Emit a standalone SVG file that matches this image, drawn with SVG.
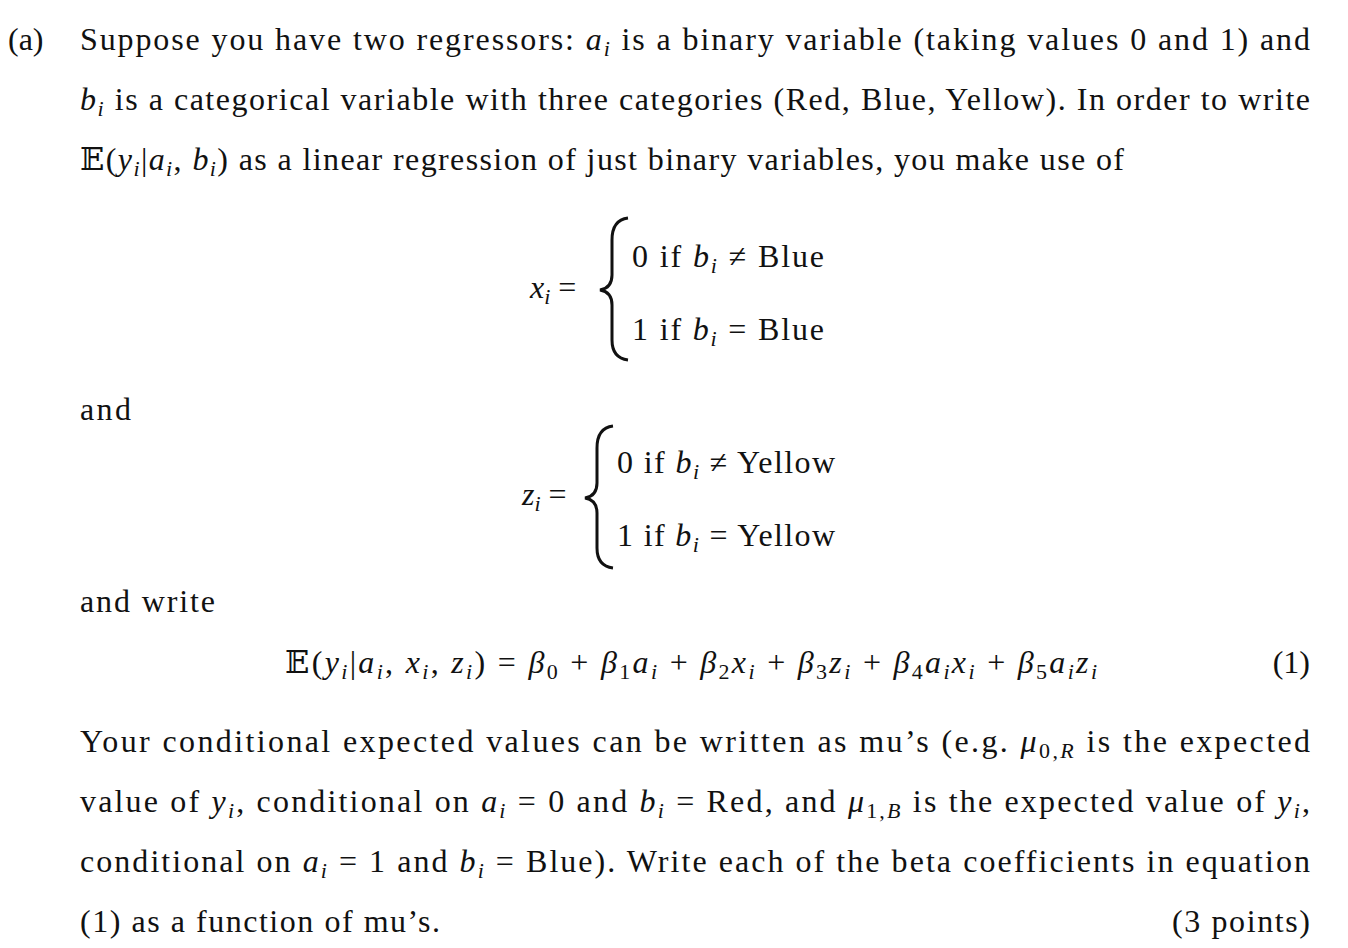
<svg xmlns="http://www.w3.org/2000/svg" width="1348" height="948" viewBox="0 0 1348 948">
<style>
text{font-family:"Liberation Serif","DejaVu Serif",serif;font-size:32px;fill:#111}
.m{font-style:italic}
.s{font-size:22px}
.br{fill:none;stroke:#111;stroke-width:3}
</style>
<rect width="1348" height="948" fill="#fff"/>
<text x="8" y="50">(a)</text>
<text x="80" y="50" textLength="1230" lengthAdjust="spacing">Suppose you have two regressors: <tspan class="m">a</tspan><tspan class="m s" dy="6">i</tspan><tspan dy="-6"> is a binary variable (taking values 0 and 1) and</tspan></text>
<text x="80" y="110" textLength="1230" lengthAdjust="spacing"><tspan class="m">b</tspan><tspan class="m s" dy="6">i</tspan><tspan dy="-6"> is a categorical variable with three categories (Red, Blue, Yellow). In order to write</tspan></text>
<text x="80" y="170" textLength="1044" lengthAdjust="spacing">𝔼(<tspan class="m">y</tspan><tspan class="m s" dy="6">i</tspan><tspan dy="-6">|</tspan><tspan class="m">a</tspan><tspan class="m s" dy="6">i</tspan><tspan dy="-6">, </tspan><tspan class="m">b</tspan><tspan class="m s" dy="6">i</tspan><tspan dy="-6">) as a linear regression of just binary variables, you make use of</tspan></text>

<text x="530" y="298"><tspan class="m">x</tspan><tspan class="m s" dy="6">i</tspan><tspan dy="-6"> =</tspan></text>
<path class="br" d="M628,218 Q612,220 612,240 L612,275 Q612,288 600,290 Q612,292 612,305 L612,340 Q612,358 628,360"/>
<text x="632" y="267" textLength="192" lengthAdjust="spacing">0 if <tspan class="m">b</tspan><tspan class="m s" dy="6">i</tspan><tspan dy="-6"> ≠ Blue</tspan></text>
<text x="632" y="340" textLength="192" lengthAdjust="spacing">1 if <tspan class="m">b</tspan><tspan class="m s" dy="6">i</tspan><tspan dy="-6"> = Blue</tspan></text>

<text x="80" y="420" textLength="51" lengthAdjust="spacing">and</text>
<text x="522" y="505"><tspan class="m">z</tspan><tspan class="m s" dy="6">i</tspan><tspan dy="-6"> =</tspan></text>
<path class="br" d="M613,426 Q597,428 597,448 L597,483 Q597,496 585,498 Q597,500 597,513 L597,548 Q597,566 613,568"/>
<text x="617" y="473" textLength="218" lengthAdjust="spacing">0 if <tspan class="m">b</tspan><tspan class="m s" dy="6">i</tspan><tspan dy="-6"> ≠ Yellow</tspan></text>
<text x="617" y="546" textLength="218" lengthAdjust="spacing">1 if <tspan class="m">b</tspan><tspan class="m s" dy="6">i</tspan><tspan dy="-6"> = Yellow</tspan></text>

<text x="80" y="612" textLength="135" lengthAdjust="spacing">and write</text>
<text x="285" y="673" textLength="812" lengthAdjust="spacing">𝔼(<tspan class="m">y</tspan><tspan class="m s" dy="6">i</tspan><tspan dy="-6">|</tspan><tspan class="m">a</tspan><tspan class="m s" dy="6">i</tspan><tspan dy="-6">, </tspan><tspan class="m">x</tspan><tspan class="m s" dy="6">i</tspan><tspan dy="-6">, </tspan><tspan class="m">z</tspan><tspan class="m s" dy="6">i</tspan><tspan dy="-6">) = </tspan><tspan class="m">β</tspan><tspan class="s" dy="6">0</tspan><tspan dy="-6"> + </tspan><tspan class="m">β</tspan><tspan class="s" dy="6">1</tspan><tspan class="m" dy="-6">a</tspan><tspan class="m s" dy="6">i</tspan><tspan dy="-6"> + </tspan><tspan class="m">β</tspan><tspan class="s" dy="6">2</tspan><tspan class="m" dy="-6">x</tspan><tspan class="m s" dy="6">i</tspan><tspan dy="-6"> + </tspan><tspan class="m">β</tspan><tspan class="s" dy="6">3</tspan><tspan class="m" dy="-6">z</tspan><tspan class="m s" dy="6">i</tspan><tspan dy="-6"> + </tspan><tspan class="m">β</tspan><tspan class="s" dy="6">4</tspan><tspan class="m" dy="-6">a</tspan><tspan class="m s" dy="6">i</tspan><tspan class="m" dy="-6">x</tspan><tspan class="m s" dy="6">i</tspan><tspan dy="-6"> + </tspan><tspan class="m">β</tspan><tspan class="s" dy="6">5</tspan><tspan class="m" dy="-6">a</tspan><tspan class="m s" dy="6">i</tspan><tspan class="m" dy="-6">z</tspan><tspan class="m s" dy="6">i</tspan></text>
<text x="1310" y="673" text-anchor="end">(1)</text>

<text x="80" y="752" textLength="1230" lengthAdjust="spacing">Your conditional expected values can be written as mu’s (e.g. <tspan class="m">μ</tspan><tspan class="s" dy="6">0,</tspan><tspan class="m s">R</tspan><tspan dy="-6"> is the expected</tspan></text>
<text x="80" y="812" textLength="1230" lengthAdjust="spacing">value of <tspan class="m">y</tspan><tspan class="m s" dy="6">i</tspan><tspan dy="-6">, conditional on </tspan><tspan class="m">a</tspan><tspan class="m s" dy="6">i</tspan><tspan dy="-6"> = 0 and </tspan><tspan class="m">b</tspan><tspan class="m s" dy="6">i</tspan><tspan dy="-6"> = Red, and </tspan><tspan class="m">μ</tspan><tspan class="s" dy="6">1,</tspan><tspan class="m s">B</tspan><tspan dy="-6"> is the expected value of </tspan><tspan class="m">y</tspan><tspan class="m s" dy="6">i</tspan><tspan dy="-6">,</tspan></text>
<text x="80" y="872" textLength="1230" lengthAdjust="spacing">conditional on <tspan class="m">a</tspan><tspan class="m s" dy="6">i</tspan><tspan dy="-6"> = 1 and </tspan><tspan class="m">b</tspan><tspan class="m s" dy="6">i</tspan><tspan dy="-6"> = Blue). Write each of the beta coefficients in equation</tspan></text>
<text x="80" y="932" textLength="360" lengthAdjust="spacing">(1) as a function of mu’s.</text>
<text x="1172" y="932" textLength="138" lengthAdjust="spacing">(3 points)</text>
</svg>
